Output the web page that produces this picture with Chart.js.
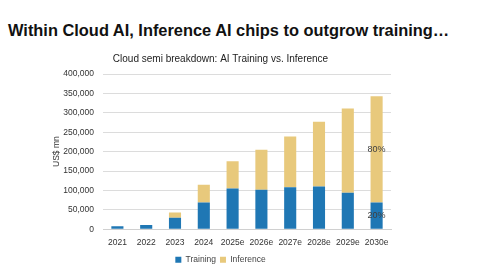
<!DOCTYPE html>
<html>
<head>
<meta charset="utf-8">
<script src="https://cdn.jsdelivr.net/npm/chart.js@4"></script>
<style>
  body { margin: 0; background: #fff; width: 481px; height: 271px; overflow: hidden; position: relative; }
  #headline { position: absolute; left: 8px; top: 21px; font: bold 16.4px "Liberation Sans", Arial, sans-serif; color: #111; white-space: nowrap; }
  #wrap { position: absolute; left: 40px; top: 48px; width: 362px; height: 226px; }
</style>
</head>
<body>
<div id="headline">Within Cloud AI, Inference AI chips to outgrow training…</div>
<div id="wrap"><canvas id="chart"></canvas></div>
<script>
// values (US$ mn)
const years = ['2021', '2022', '2023', '2024', '2025e', '2026e', '2027e', '2028e', '2029e', '2030e'];
const training = [8000, 11000, 30000, 69000, 105000, 102000, 108000, 110000, 94000, 69000];
const inference = [0, 0, 13000, 46000, 70000, 103000, 131000, 167000, 217000, 274000];
const trainingLabels = ['', '', '', '', '', '', '', '', '', '20%'];
const inferenceLabels = ['', '', '', '', '', '', '', '', '', '80%'];

const axisFont = { family: 'Liberation Sans, Arial, sans-serif', size: 8.5 };

// draws the share labels in the middle of the bars
const shareLabels = {
    id: 'shareLabels',
    afterDatasetsDraw(chart) {
        const ctx = chart.ctx;
        const lists = [trainingLabels, inferenceLabels];
        ctx.save();
        ctx.font = '9px Liberation Sans, Arial, sans-serif';
        ctx.fillStyle = '#404040';
        ctx.textAlign = 'center';
        ctx.textBaseline = 'middle';
        lists.forEach((labels, di) => {
            chart.getDatasetMeta(di).data.forEach((bar, i) => {
                if (!labels[i]) return;
                ctx.fillText(labels[i], bar.x, (bar.y + bar.base) / 2);
            });
        });
        ctx.restore();
    }
};

new Chart(document.getElementById('chart'), {
    type: 'bar',
    data: {
        labels: years,
        datasets: [
            { label: 'Training', data: training, backgroundColor: '#1f77b4' },
            { label: 'Inference', data: inference, backgroundColor: '#e8c97c' }
        ]
    },
    options: {
        responsive: true,
        maintainAspectRatio: false,
        animation: false,
        layout: { padding: { left: 10, right: 11, top: 0, bottom: 0 } },
        datasets: { bar: { barPercentage: 0.42, categoryPercentage: 1 } },
        plugins: {
            title: {
                display: true,
                text: 'Cloud semi breakdown: AI Training vs. Inference',
                color: '#222',
                font: { family: 'Liberation Sans, Arial, sans-serif', size: 10, weight: 'normal' },
                padding: { top: 5, bottom: 9 }
            },
            legend: {
                position: 'bottom',
                labels: { boxWidth: 6, boxHeight: 6, color: '#444', font: axisFont, padding: 4 }
            },
            tooltip: { enabled: false }
        },
        scales: {
            x: {
                stacked: true,
                grid: { display: false },
                border: { color: '#d0d0d0' },
                ticks: { color: '#333', font: axisFont, maxRotation: 0, padding: 0 },
                afterFit: s => { s.height += 4; }
            },
            y: {
                stacked: true,
                min: 0,
                max: 400000,
                grid: { color: '#dcdcdc', drawTicks: false },
                border: { display: false },
                ticks: {
                    stepSize: 50000,
                    color: '#333',
                    font: axisFont,
                    padding: 9,
                    callback: v => v.toLocaleString('en-US')
                },
                title: { display: true, text: 'US$ mn', color: '#333', font: axisFont, padding: 2 },
                afterFit: s => { s.width = 53; }
            }
        }
    },
    plugins: [shareLabels]
});
</script>
</body>
</html>
